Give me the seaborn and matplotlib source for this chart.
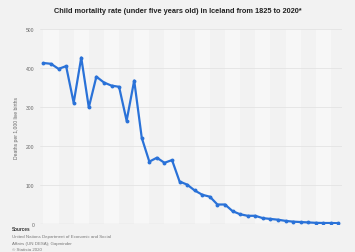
import numpy as np
import pandas as pd
import seaborn as sns
import matplotlib.pyplot as plt

# 1825..2020, every five years
years = list(range(1825, 2021, 5))
deaths = [413, 411, 398, 405, 311, 427, 299, 378, 363, 355,
          352, 265, 368, 221, 160, 170, 157, 164, 109, 101,
          86, 75, 70, 50, 50, 33, 25, 21, 21, 15,
          13, 11, 8, 6, 5, 4, 3, 2.5, 2.5, 2]
y_ticks = [0, 100, 200, 300, 400, 500]
y_labels = ['0', '100', '200', '300', '400', '500']

df = pd.DataFrame({'year': years, 'deaths': deaths})
df['pos'] = np.arange(len(df))

sns.set_theme(style='white')
plt.rcParams['font.family'] = ['Liberation Sans', 'DejaVu Sans']

fig = plt.figure(figsize=(3.55, 2.53), dpi=100)
fig.patch.set_facecolor('#f2f2f2')
ax = fig.add_axes([0.1127, 0.1107, 0.8503, 0.7703])
ax.set_facecolor('#f2f2f2')

# alternating column bands
for i in range(0, len(df) - 1, 4):
    ax.axvspan(i, i + 2, color='#f7f7f7', zorder=0, lw=0)

for t in y_ticks[1:]:
    ax.axhline(t, color='#e3e3e3', lw=0.6, zorder=1)
ax.axhline(0, color='#b5b5b5', lw=0.8, zorder=1)

sns.lineplot(data=df, x='pos', y='deaths', ax=ax, color='#2a72d8',
             lw=1.6, marker='o', markersize=2.8, markeredgewidth=0, zorder=3)

ax.set_xlim(-0.45, len(df) - 0.55)
ax.set_ylim(0, 500)
ax.set_xticks([])
ax.set_yticks(y_ticks)
ax.set_yticklabels(y_labels, fontsize=3.6, color='#666666')
ax.tick_params(axis='y', length=0, pad=4)
for s in ax.spines.values():
    s.set_visible(False)
ax.set_xlabel('')
ax.set_ylabel('Deaths per 1,000 live births', fontsize=3.6, color='#666666', labelpad=5)

fig.text(0.5, 0.955, 'Child mortality rate (under five years old) in Iceland from 1825 to 2020*',
         ha='center', va='center', fontsize=5.3, fontweight='bold', color='#222222')

fig.text(0.034, 0.091, 'Sources', fontsize=3.4, color='#333333', fontweight='bold', va='center')
fig.text(0.034, 0.062, 'United Nations Department of Economic and Social', fontsize=3.2,
         color='#777777', va='center')
fig.text(0.034, 0.036, 'Affairs (UN DESA); Gapminder', fontsize=3.2, color='#777777', va='center')
fig.text(0.034, 0.011, '\u00a9 Statista 2020', fontsize=3.2, color='#777777', va='center')

fig.savefig('out.png', dpi=100, facecolor=fig.get_facecolor())
